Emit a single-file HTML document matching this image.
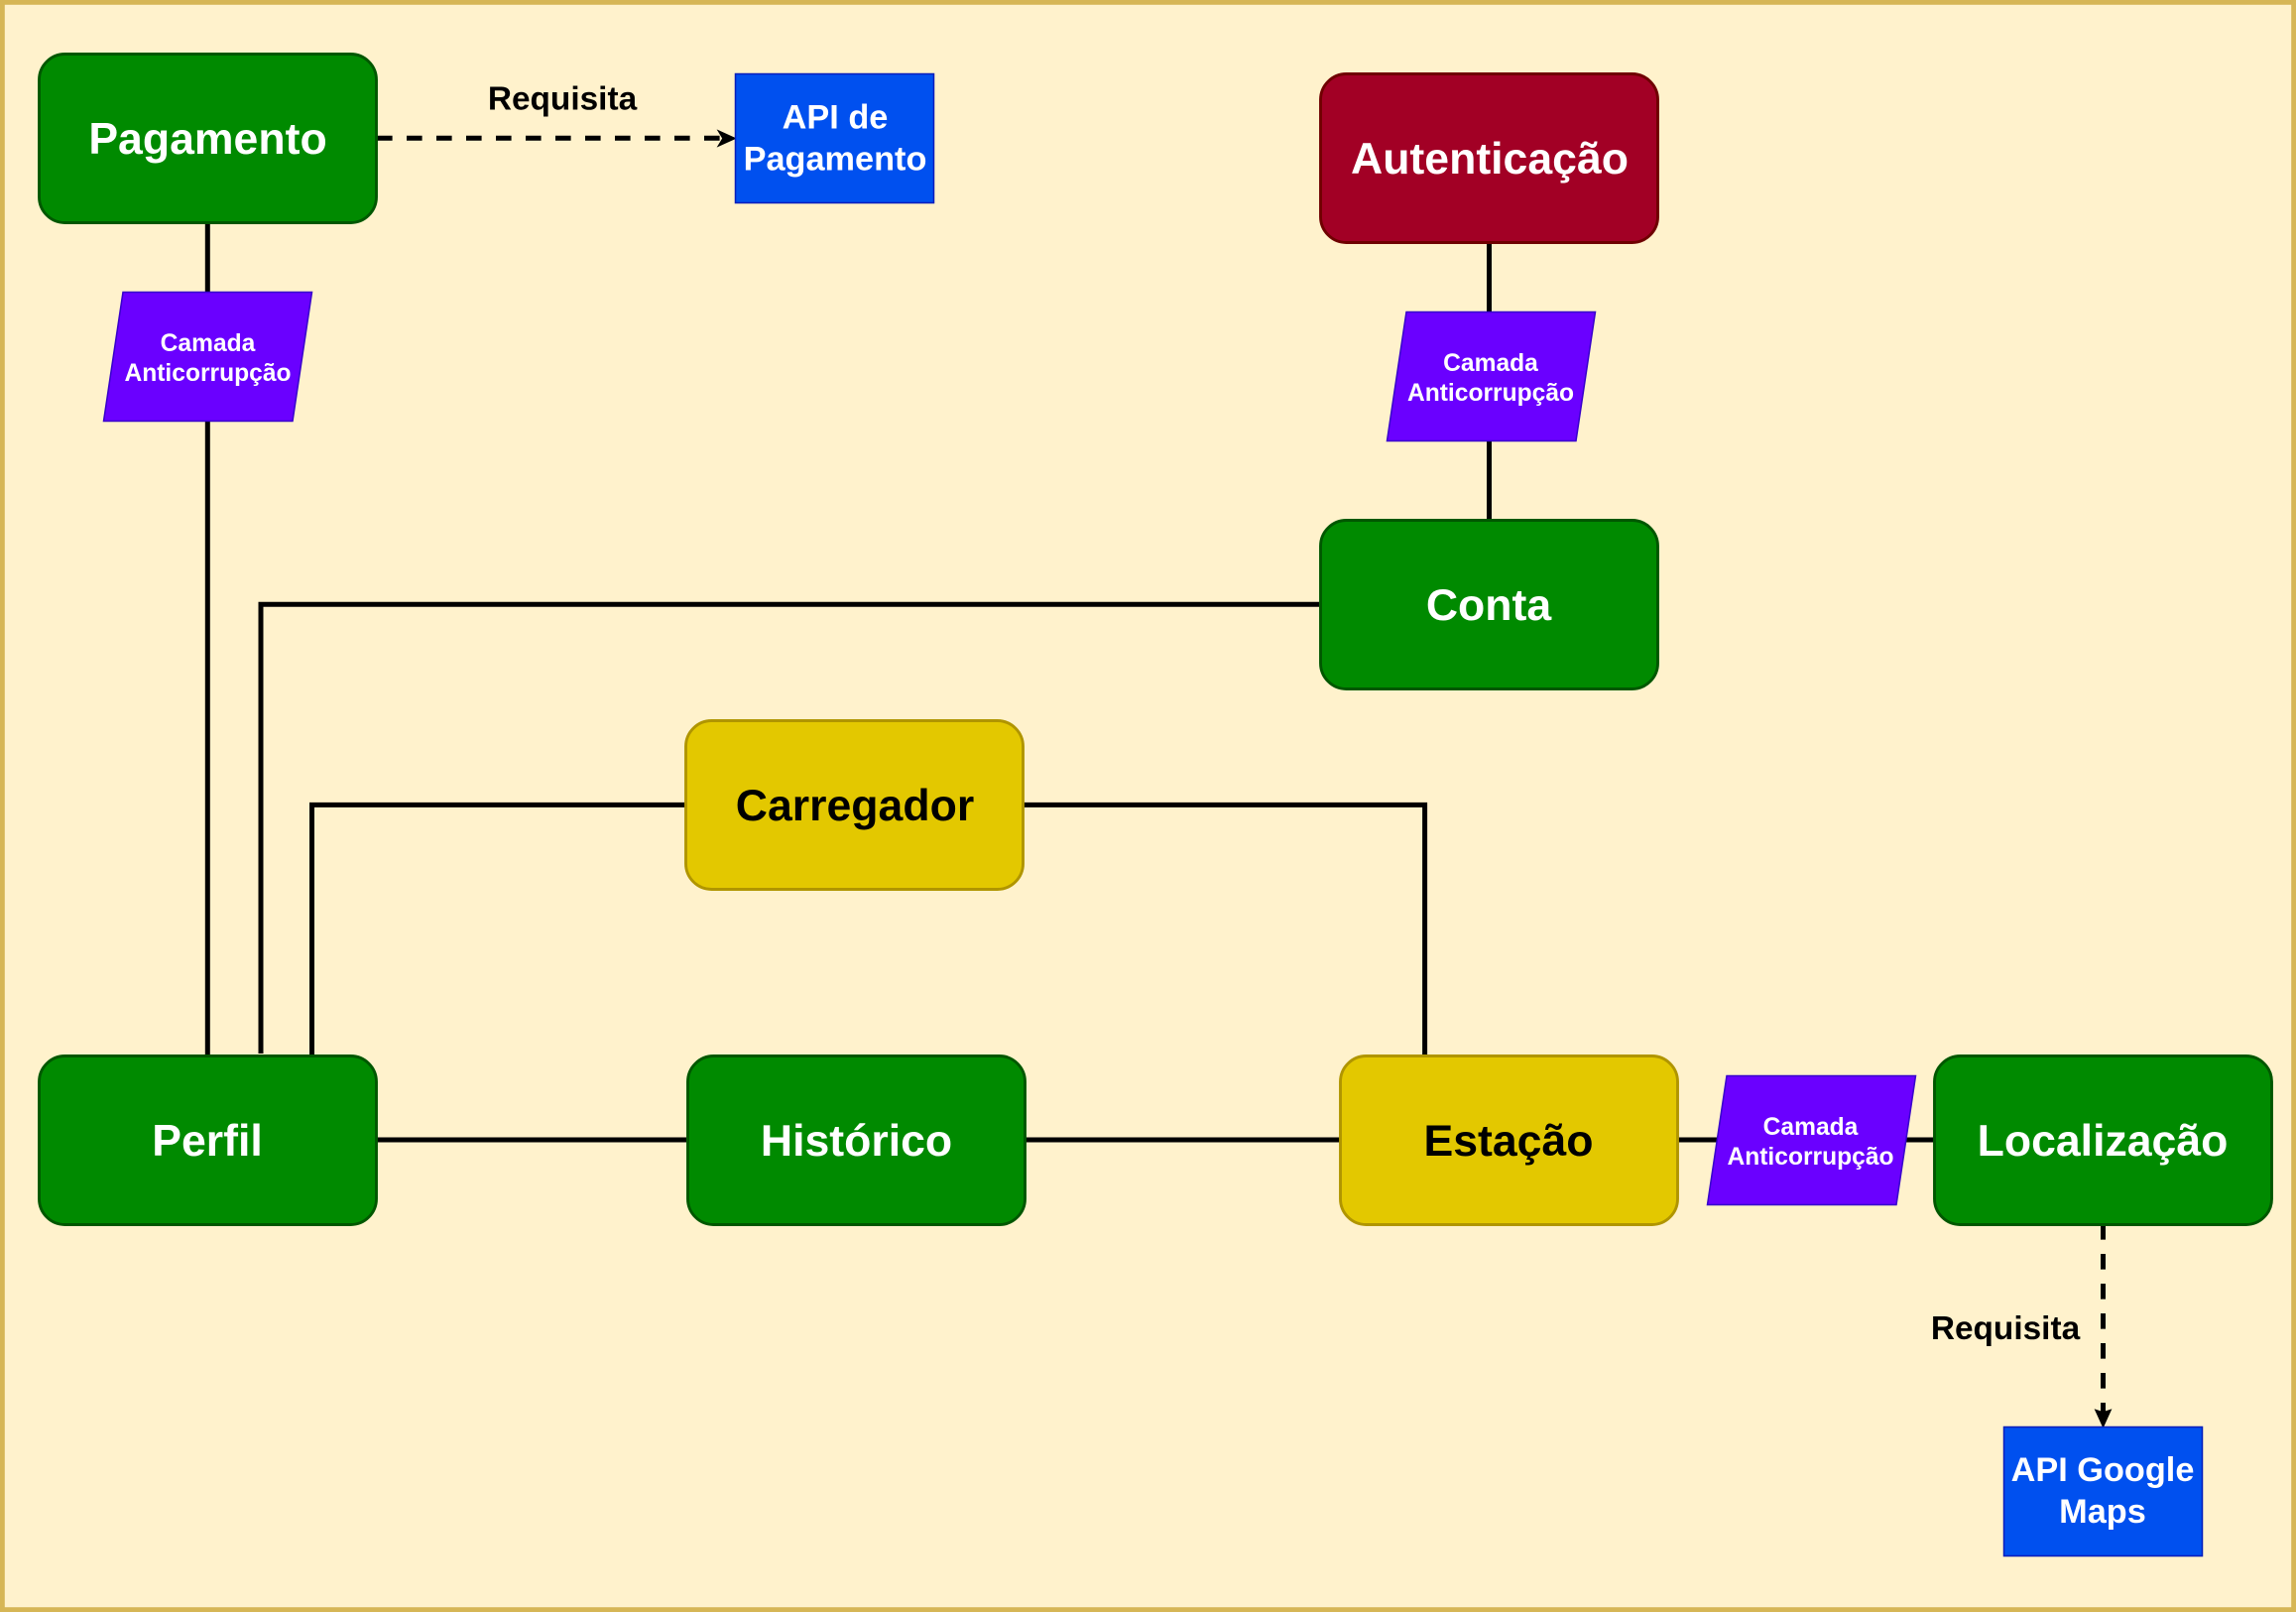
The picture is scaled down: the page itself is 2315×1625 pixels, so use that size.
<!DOCTYPE html>
<html><head><meta charset="utf-8"><style>html,body{margin:0;padding:0;background:#fff2cc}svg{display:block}
text{font-family:"Liberation Sans",Arial,sans-serif;font-weight:bold;text-anchor:middle}</style></head>
<body>
<svg width="2315" height="1625" viewBox="0 0 2315 1625" xmlns="http://www.w3.org/2000/svg">
<rect x="2.4" y="2.4" width="2310.2" height="1620.2" fill="#fff2cc" stroke="#d6b656" stroke-width="4.8"/>
<g fill="none" stroke="#000" stroke-width="5">
<path d="M209.3 225V1063"/>
<path d="M1501.5 245V524"/>
<path d="M1330 609.2H263V1062"/>
<path d="M691 811.4H314.5V1063"/>
<path d="M1032 811.4H1436.6V1063"/>
<path d="M380 1149H692M1034 1149H1351M1692 1149H1950"/>
<path d="M380 139.3H726" stroke-dasharray="15.6 14.4"/>
<path d="M2120.5 1234V1430" stroke-dasharray="15.6 14.4"/>
</g>
<path d="M741 139.5L724.5 132L729 139.5L724.5 147Z" fill="#000" stroke="#000" stroke-width="1.5"/>
<path d="M2120.5 1438L2113 1421.5L2120.5 1424L2128 1421.5Z" fill="#000" stroke="#000" stroke-width="1.5"/>
<g stroke-width="2.9">
<g fill="#008a00" stroke="#005700">
<rect x="39.5" y="54.5" width="340" height="170" rx="26"/>
<rect x="1331.5" y="524.5" width="340" height="170" rx="26"/>
<rect x="39.5" y="1064.5" width="340" height="170" rx="26"/>
<rect x="693.5" y="1064.5" width="340" height="170" rx="26"/>
<rect x="1950.5" y="1064.5" width="340" height="170" rx="26"/>
</g>
<rect x="1331.5" y="74.5" width="340" height="170" rx="26" fill="#a20025" stroke="#6f0000"/>
<g fill="#e3c800" stroke="#b09500">
<rect x="691.5" y="726.5" width="340" height="170" rx="26"/>
<rect x="1351.5" y="1064.5" width="340" height="170" rx="26"/>
</g>
</g>
<g fill="#0050ef" stroke="#001dbc" stroke-width="1.5">
<rect x="741.5" y="74.5" width="200" height="130"/>
<rect x="2020.5" y="1438.5" width="200" height="130"/>
</g>
<g fill="#6a00ff" stroke="#3700cc" stroke-width="1.5">
<polygon points="124,294.5 314.5,294.5 295,424.5 104.5,424.5"/>
<polygon points="1418,314.5 1608.5,314.5 1589,444.5 1398.5,444.5"/>
<polygon points="1741,1084.5 1931.5,1084.5 1912,1214.5 1721.5,1214.5"/>
</g>
<g font-size="44.6" fill="#fff">
<text x="209.5" y="155">Pagamento</text>
<text x="1502" y="175">Autenticação</text>
<text x="1501" y="625">Conta</text>
<text x="209" y="1165">Perfil</text>
<text x="863.5" y="1165">Histórico</text>
<text x="2120" y="1165">Localização</text>
</g>
<g font-size="44.6" fill="#000">
<text x="862" y="827">Carregador</text>
<text x="1521" y="1165">Estação</text>
</g>
<g font-size="34.3" fill="#fff">
<text x="842" y="129.5">API de</text>
<text x="842" y="171.5">Pagamento</text>
<text x="2120" y="1493">API Google</text>
<text x="2120" y="1535">Maps</text>
</g>
<g font-size="33.4" fill="#000">
<text x="567" y="110.5">Requisita</text>
<text x="2022" y="1350">Requisita</text>
</g>
<g font-size="24.6" fill="#fff">
<text x="209.5" y="354">Camada</text>
<text x="209.5" y="384">Anticorrupção</text>
<text x="1503" y="374">Camada</text>
<text x="1503" y="404">Anticorrupção</text>
<text x="1825.5" y="1144">Camada</text>
<text x="1825.5" y="1174">Anticorrupção</text>
</g>
</svg>
</body></html>
